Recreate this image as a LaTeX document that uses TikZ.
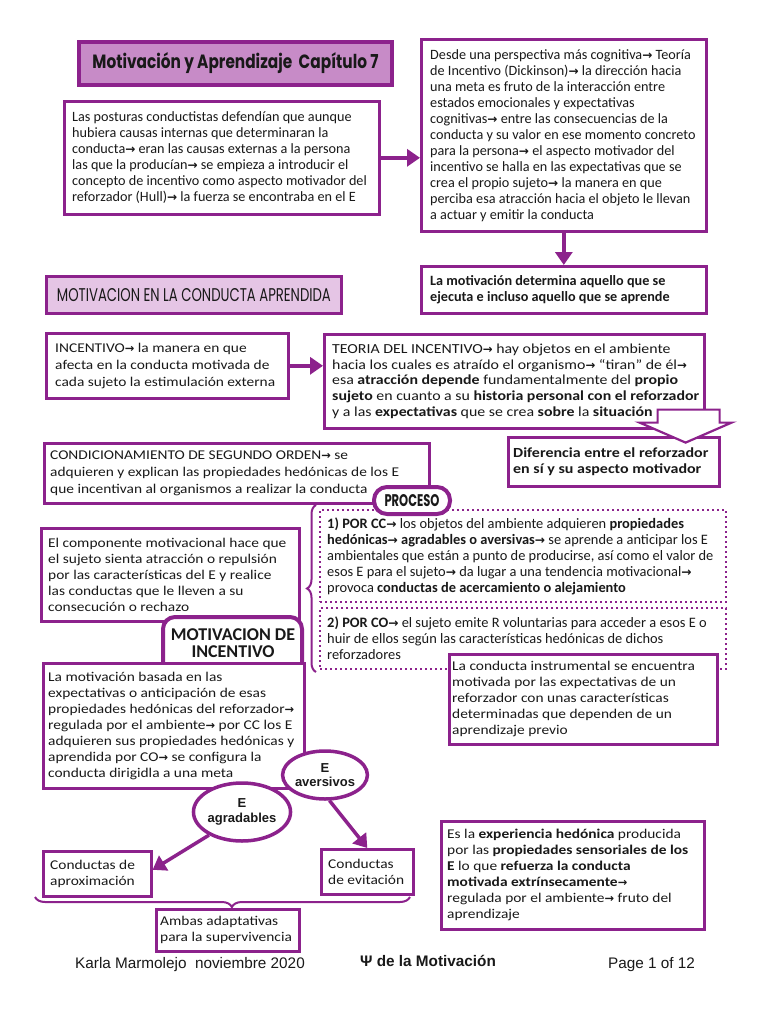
\documentclass[tikz,border=0pt]{standalone}
\usepackage{fontspec}
\setmainfont{Carlito}
\newfontfamily\wide[FakeStretch=1.15]{Carlito}
\newfontfamily\hand{Poppins}
\newfontfamily\arialf{Liberation Sans}
\newfontfamily\djv{DejaVu Sans}
\usetikzlibrary{arrows.meta,decorations.pathreplacing,shapes.geometric,calc}
\definecolor{purp}{RGB}{140,34,140}
\definecolor{lilA}{RGB}{199,139,199}
\definecolor{lilB}{RGB}{229,197,229}
\definecolor{ink}{RGB}{25,25,25}
\newcommand\myarr{{\djv\bfseries\scalebox{0.85}{→}}}
\newcommand\fA{\fontsize{14.2}{16}\selectfont}
\newcommand\fD{\fontsize{14.4}{16}\selectfont}
\newcommand\fW{\wide\fontsize{13.4}{16}\selectfont}
\newcommand\fWs{\wide\fontsize{13.4}{17}\selectfont}
\newcommand\fWe{\wide\fontsize{13.8}{15.8}\selectfont}
\tikzset{
 bx/.style={draw=purp, line width=2.6pt, fill=white, inner sep=0pt, anchor=north west},
 dbx/.style={draw=purp, line width=2.2pt, dash pattern=on 2.2pt off 2.8pt, fill=white, inner sep=0pt, anchor=north west},
 tx/.style={inner sep=0pt, align=left, anchor=west, text=ink},
 arr/.style={draw=purp, line width=3.5pt, -{Triangle[length=13pt,width=17pt]}},
 ell/.style={draw=purp, line width=3.5pt, fill=white, ellipse, inner sep=0pt, align=center, text=ink, font=\arialf\bfseries\fontsize{13}{14.5}\selectfont},
 brc/.style={draw=purp, line width=2pt, decorate, decoration={brace, amplitude=9pt}},
 foot/.style={inner sep=0pt, anchor=west, text=ink, font=\arialf\fontsize{15.3}{17}\selectfont},
}
\begin{document}
\begin{tikzpicture}[x=1pt,y=-1pt]
\fill[white] (0,0) rectangle (768,1024);
\useasboundingbox (0,0) rectangle (768,1024);

% title
\node[bx, line width=4pt, fill=lilA, minimum width=313pt, minimum height=43pt, text=ink] (title) at (77,40)
 {\resizebox{286pt}{16pt}{\hand\bfseries Motivación y Aprendizaje\ \ Capítulo 7}};

% box A
\node[bx, minimum width=315pt, minimum height=113pt] (A) at (63,100) {};
\node[tx, font=\fA] (At) at ($(A.west)+(9,0)$)
 {Las posturas conductistas defendían que aunque\\
  hubiera causas internas que determinaran la\\
  conducta\myarr\ eran las causas externas a la persona\\
  las que la producían\myarr\ se empieza a introducir el\\
  concepto de incentivo como aspecto motivador del\\
  reforzador (Hull)\myarr\ la fuerza se encontraba en el E};

% box B
\node[bx, minimum width=285pt, minimum height=192pt] (B) at (420,38) {};
\node[tx, font=\fA] (Bt) at ($(B.west)+(10,0)$)
 {Desde una perspectiva más cognitiva\myarr\ Teoría\\
  de Incentivo (Dickinson)\myarr\ la dirección hacia\\
  una meta es fruto de la interacción entre\\
  estados emocionales y expectativas\\
  cognitivas\myarr\ entre las consecuencias de la\\
  conducta y su valor en ese momento concreto\\
  para la persona\myarr\ el aspecto motivador del\\
  incentivo se halla en las expectativas que se\\
  crea el propio sujeto\myarr\ la manera en que\\
  perciba esa atracción hacia el objeto le llevan\\
  a actuar y emitir la conducta};

% box C
\node[bx, minimum width=285pt, minimum height=47pt] (C) at (420,265) {};
\node[tx, font=\fA\bfseries] (Ct) at ($(C.west)+(10,0)$)
 {La motivación determina aquello que se\\
  ejecuta e incluso aquello que se aprende};

\draw[arr] (A.east) -- (A.east -| B.west);
\draw[arr] (B.south) -- (C.north);

% section heading
\node[bx, line width=2.8pt, fill=lilB, minimum width=295pt, minimum height=37pt, text=ink] (sec) at (45,275)
 {\resizebox{274pt}{13pt}{\hand MOTIVACION EN LA CONDUCTA APRENDIDA}};

% box D
\node[bx, minimum width=242pt, minimum height=65pt] (D) at (45,332) {};
\node[tx, font=\fWs] (Dt) at ($(D.west)+(10,0)$)
 {INCENTIVO\myarr\ la manera en que\\
  afecta en la conducta motivada de\\
  cada sujeto la estimulación externa};

% box E
\node[bx, minimum width=380pt, minimum height=94pt] (E) at (323,333) {};
\node[tx, font=\fWe] (Et) at ($(E.west)+(9,0)$)
 {TEORIA DEL INCENTIVO\myarr\ hay objetos en el ambiente\\
  hacia los cuales es atraído el organismo\myarr\ “tiran” de él\myarr\\
  esa \textbf{atracción depende} fundamentalmente del \textbf{propio}\\
  \textbf{sujeto} en cuanto a su \textbf{historia personal con el reforzador}\\
  y a las \textbf{expectativas} que se crea \textbf{sobre} la \textbf{situación}};

\draw[arr] (D.east) -- (D.east -| E.west);

% box F
\node[bx, minimum width=211pt, minimum height=49pt] (F) at (507,436) {};
\node[tx, font=\wide\fontsize{13.9}{15.5}\selectfont\bfseries] (Ft) at ($(F.west)+(6,0)$)
 {Diferencia entre el reforzador\\
  en sí y su aspecto motivador};

% hollow block arrow from E to F
\coordinate (ha) at (E.south east);
\draw[purp, line width=2.2pt, fill=white, line join=miter]
 ($(ha)+(-48,-20)$) -- ($(ha)+(14,-20)$) -- ($(ha)+(14,-7)$) -- ($(ha)+(26,-7)$)
 -- ($(ha)+(-20,13)$) -- ($(ha)+(-66,-7)$) -- ($(ha)+(-48,-7)$) -- cycle;

% box G
\node[bx, minimum width=385pt, minimum height=60pt] (G) at (43,442) {};
\node[tx, font=\fWs] (Gt) at ($(G.west)+(7,0)$)
 {CONDICIONAMIENTO DE SEGUNDO ORDEN\myarr\ se\\
  adquieren y explican las propiedades hedónicas de los E\\
  que incentivan al organismos a realizar la conducta};

% dotted process boxes
\node[dbx, minimum width=406pt, minimum height=92pt] (P1) at (319,509) {};
\node[tx, font=\fD] (P1t) at ($(P1.west)+(8,0)$)
 {\textbf{1) POR CC\myarr} los objetos del ambiente adquieren \textbf{propiedades}\\
  \textbf{hedónicas\myarr\ agradables o aversivas\myarr} se aprende a anticipar los E\\
  ambientales que están a punto de producirse, así como el valor de\\
  esos E para el sujeto\myarr\ da lugar a una tendencia motivacional\myarr\\
  provoca \textbf{conductas de acercamiento o alejamiento}};

\node[dbx, minimum width=406pt, minimum height=61pt] (P2) at (319,607) {};
\node[tx, font=\fD] (P2t) at ($(P2.west)+(8,0)$)
 {\textbf{2) POR CO\myarr} el sujeto emite R voluntarias para acceder a esos E o\\
  huir de ellos según las características hedónicas de dichos\\
  reforzadores};

\node[draw=purp, line width=4pt, fill=white, rounded corners=13pt, minimum width=76pt, minimum height=27pt, inner sep=0pt, anchor=north west, text=ink] (proc) at (372,485)
 {\resizebox{55pt}{12pt}{\hand\bfseries PROCESO}};

\draw[brc] (316,672) -- (316,505);

% box H
\node[bx, minimum width=268pt, minimum height=90pt] (H) at (448,653) {};
\node[tx, font=\fW] (Ht) at ($(H.west)+(4,0)$)
 {La conducta instrumental se encuentra\\
  motivada por las expectativas de un\\
  reforzador con unas características\\
  determinadas que dependen de un\\
  aprendizaje previo};

% box I
\node[bx, minimum width=258pt, minimum height=93pt] (I) at (40,527) {};
\node[tx, font=\fW] (It) at ($(I.west)+(8,0)$)
 {El componente motivacional hace que\\
  el sujeto sienta atracción o repulsión\\
  por las características del E y realice\\
  las conductas que le lleven a su\\
  consecución o rechazo};

% tab
\draw[purp, line width=4pt, fill=white, rounded corners=12pt]
 (163,668) -- (163,617) -- (302,617) -- (302,668);
\node[inner sep=0pt, align=center, text=ink, font=\fontsize{18}{17}\selectfont\bfseries] (tab) at (233,643)
 {MOTIVACION DE\\INCENTIVO};

% box J
\node[bx, minimum width=261pt, minimum height=125pt] (J) at (42,662) {};
\node[tx, font=\fW] (Jt) at ($(J.west)+(6,0)$)
 {La motivación basada en las\\
  expectativas o anticipación de esas\\
  propiedades hedónicas del reforzador\myarr\\
  regulada por el ambiente\myarr\ por CC los E\\
  adquieren sus propiedades hedónicas y\\
  aprendida por CO\myarr\ se configura la\\
  conducta dirigidla a una meta};

% ellipses
\node[ell, minimum width=80pt, minimum height=48pt] (av) at (325,775) {E\\aversivos};
\node[ell, minimum width=90pt, minimum height=58pt] (agr) at (242,812) {E\\agradables};

% K and L
\node[bx, minimum width=108pt, minimum height=45pt] (K) at (42,850) {};
\node[tx, font=\fW] (Kt) at ($(K.west)+(8,0)$) {Conductas de\\aproximación};
\node[bx, minimum width=92pt, minimum height=45pt] (L) at (320,848) {};
\node[tx, font=\fW] (Lt) at ($(L.west)+(8,0)$) {Conductas\\de evitación};

\draw[arr] (agr.215) -- ([yshift=4pt]K.east);
\draw[arr] (av.280) -- (L.north);

\draw[brc, decoration={brace, amplitude=10pt, aspect=0.475}] (410,897) -- (35,897);

% M
\node[bx, minimum width=143pt, minimum height=42pt] (M) at (155,908) {};
\node[tx, font=\fW] (Mt) at ($(M.west)+(5,0)$) {Ambas adaptativas\\para la supervivencia};

% N
\node[bx, minimum width=263pt, minimum height=108pt] (N) at (440,820) {};
\node[tx, font=\fW] (Nt) at ($(N.west)+(7,0)$)
 {Es la \textbf{experiencia hedónica} producida\\
  por las \textbf{propiedades sensoriales de los}\\
  \textbf{E} lo que \textbf{refuerza la conducta}\\
  \textbf{motivada extrínsecamente\myarr}\\
  regulada por el ambiente\myarr\ fruto del\\
  aprendizaje};

% footer
\node[foot] (autor) at (75,965) {Karla Marmolejo\ \ noviembre 2020};
\node[foot, font=\arialf\bfseries\fontsize{15.3}{17}\selectfont] (psi) at (360,961) {Ψ de la Motivación};
\node[foot] (page) at (608,965) {Page 1 of 12};
\end{tikzpicture}
\end{document}
